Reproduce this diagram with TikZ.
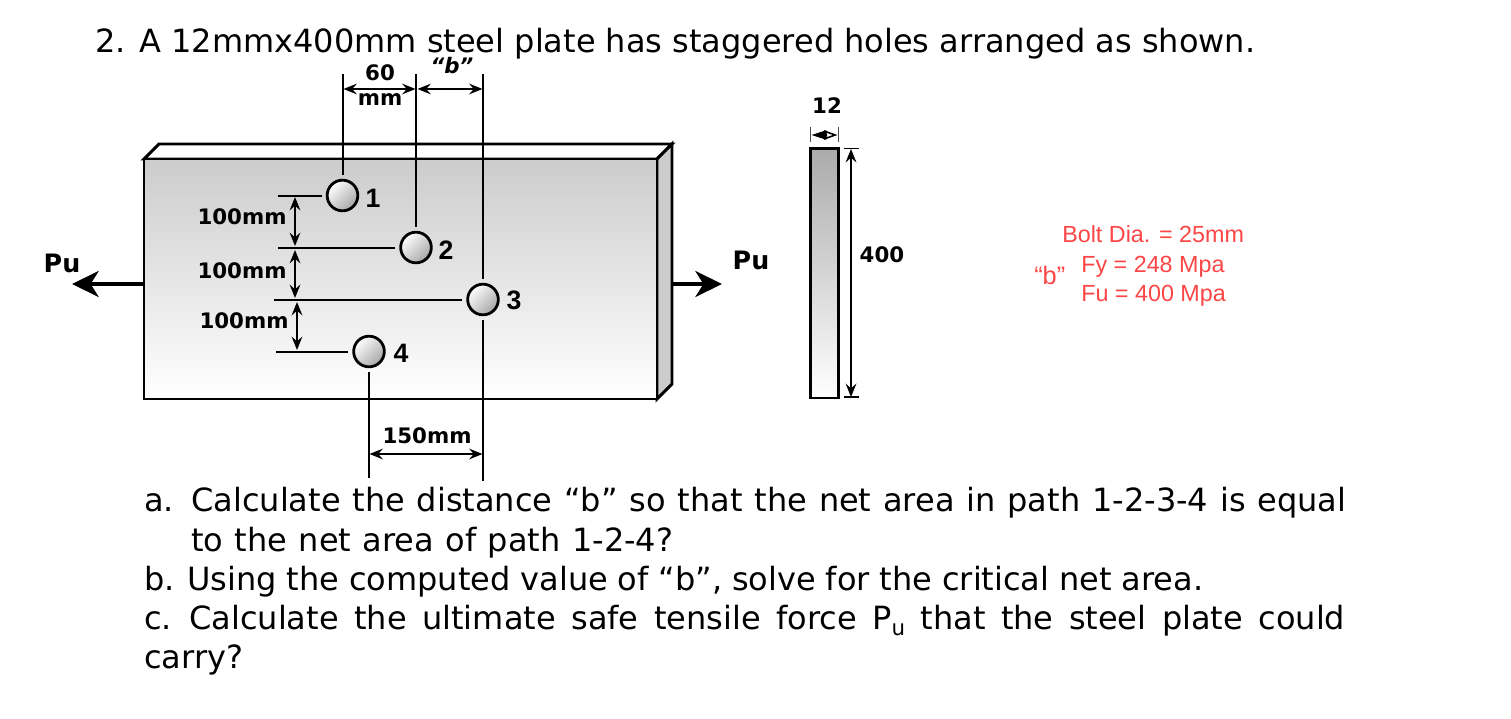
\documentclass[tikz,border=0pt]{standalone}
\usepackage{fontspec}
\setmainfont{DejaVu Sans}
\newfontfamily\helvfont{Liberation Sans}
\usetikzlibrary{arrows.meta}
\definecolor{notered}{RGB}{252,70,70}
\tikzset{
  plateline/.style={line width=2.2pt,line join=miter},
  thinline/.style={line width=1.5pt},
  dimline/.style={line width=1.9pt,{Stealth[length=10pt,width=8pt,inset=3.5pt]}-{Stealth[length=10pt,width=8pt,inset=3.5pt]}},
  loadarrow/.style={line width=2.4pt,-{Stealth[length=20pt,width=19.5pt,inset=6pt]}},
  hole/.style={circle,draw,line width=2.1pt,minimum size=23pt,inner sep=0pt,
    left color=white,right color=gray!70,shading angle=45},
  dimlabel/.style={font=\fontsize{16}{16}\selectfont\bfseries,inner sep=0pt},
  holelabel/.style={font=\helvfont\fontsize{20}{20}\selectfont\bfseries,inner sep=0pt},
  bodyline/.style={anchor=base west,inner sep=0pt,font=\fontsize{24}{24}\selectfont},
  redlabel/.style={anchor=base west,inner sep=0pt,text=notered,font=\helvfont\fontsize{17.5}{17.5}\selectfont},
}
\newcommand{\fitline}[2]{\makebox[0.75\dimexpr#1pt\relax][s]{#2}}
\begin{document}
\begin{tikzpicture}[x=0.75pt,y=-0.75pt]
    \useasboundingbox (0,0) rectangle (1511,718);
    % plate
    \draw[plateline,fill=white] (144,159) -- (159,144) -- (672,144) -- (657,159) -- cycle;
    \draw[plateline,fill=black!20] (657,159) -- (672,144) -- (672,384) -- (657,399) -- cycle;
    \draw[plateline,top color=black!20,bottom color=white] (144,159) rectangle (657,399);
    % side view
    \draw[plateline,top color=black!33,bottom color=white] (810.5,148.5) rectangle (838.5,398);
    % holes
    \node[hole] (h1) at (342.5,195.5) {};
    \node[hole] (h2) at (416,247.5) {};
    \node[hole] (h3) at (483,299.5) {};
    \node[hole] (h4) at (369,351.5) {};
    \node[holelabel] (n1) at (373,198) {1};
    \node[holelabel] (n2) at (446,250) {2};
    \node[holelabel] (n3) at (514,300) {3};
    \node[holelabel] (n4) at (401,353) {4};
    % free ends of the witness lines
    \coordinate (t1) at (342.5,74);
    \coordinate (t2) at (416,74);
    \coordinate (t3) at (483,74);
    \coordinate (b3) at (483,481);
    \coordinate (b4) at (369,478);
    \coordinate (l1) at (278,195.5);
    \coordinate (l2) at (278,247.5);
    \coordinate (l3) at (274,299.5);
    \coordinate (l4) at (276,351.5);
    \draw[thinline,shorten >=3pt] (t1) -- (h1);
    \draw[thinline,shorten >=3pt] (t2) -- (h2);
    \draw[thinline,shorten >=3pt] (t3) -- (h3);
    \draw[thinline,shorten >=3pt] (b3) -- (h3);
    \draw[thinline,shorten >=3pt] (b4) -- (h4);
    \draw[thinline,shorten >=3pt] (l1) -- (h1);
    \draw[thinline,shorten >=3pt] (l2) -- (h2);
    \draw[thinline,shorten >=3pt] (l3) -- (h3);
    \draw[thinline,shorten >=3pt] (l4) -- (h4);
    % dimensions along the top
    \coordinate (d1) at (343.5,89);
    \coordinate (d2) at (415.5,89);
    \coordinate (d3) at (417.5,89);
    \coordinate (d4) at (482.5,89);
    \draw[dimline] (d1) -- (d2);
    \draw[dimline] (d3) -- (d4);
    \node[dimlabel] (lab60) at (380,73) {60};
    \node[dimlabel] (labmm) at (380,100) {mm};
    \node[dimlabel,font=\fontsize{16}{16}\selectfont\bfseries\itshape] (labb) at (452,66) {“b”};
    % dimensions on the left
    \coordinate (v1) at (295,197);
    \coordinate (v2) at (295,246);
    \coordinate (v3) at (295,250);
    \coordinate (v4) at (295,298);
    \coordinate (v5) at (297,302);
    \coordinate (v6) at (297,350);
    \draw[dimline] (v1) -- (v2);
    \draw[dimline] (v3) -- (v4);
    \draw[dimline] (v5) -- (v6);
    \node[dimlabel] (lab100a) at (242,217) {100mm};
    \node[dimlabel] (lab100b) at (242,271) {100mm};
    \node[dimlabel] (lab100c) at (244,321) {100mm};
    % dimension below
    \coordinate (d5) at (369.5,454);
    \coordinate (d6) at (482.5,454);
    \draw[dimline] (d5) -- (d6);
    \node[dimlabel] (lab150) at (427,436) {150mm};
    % loads
    \coordinate (pl1) at (143,284);
    \coordinate (pl2) at (72,284);
    \coordinate (pr1) at (673,284);
    \coordinate (pr2) at (722,284);
    \draw[loadarrow] (pl1) -- (pl2);
    \draw[loadarrow] (pr1) -- (pr2);
    \node[dimlabel,font=\fontsize{19}{19}\selectfont\bfseries] (pul) at (62,263) {Pu};
    \node[dimlabel,font=\fontsize{19}{19}\selectfont\bfseries] (pur) at (751,260) {Pu};
    % side view dimensions
    \coordinate (w1) at (810.5,127);
    \coordinate (w2) at (810.5,142);
    \coordinate (w3) at (838.5,127);
    \coordinate (w4) at (838.5,142);
    \draw[line width=1pt,black!70] (w1) -- (w2);
    \draw[line width=1pt,black!70] (w3) -- (w4);
    \coordinate (d7) at (811.5,135);
    \coordinate (d8) at (837.5,135);
    \draw[line width=1.2pt,{Stealth[length=11pt,width=7pt,inset=1pt]}-{Stealth[length=10pt,width=7pt,inset=1pt,open,fill=white]}] (d7) -- (d8);
    \node[dimlabel] (lab12) at (827,106) {12};
    \coordinate (w5) at (844,148.5);
    \coordinate (w6) at (859,148.5);
    \coordinate (w7) at (844,397);
    \coordinate (w8) at (859,397);
    \draw[line width=1.1pt] (w5) -- (w6);
    \draw[line width=1.1pt] (w7) -- (w8);
    \coordinate (d9) at (851,149);
    \coordinate (d10) at (851,397);
    \draw[dimline] (d9) -- (d10);
    \node[dimlabel] (lab400) at (882,255) {400};
    % red notes
    \node[redlabel] (bolt) at (1062,242) {Bolt Dia. = 25mm};
    \node[redlabel] (fy) at (1081,272) {Fy = 248 Mpa};
    \node[redlabel] (fu) at (1081,301) {Fu = 400 Mpa};
    \node[redlabel,font=\helvfont\fontsize{19}{19}\selectfont] (redb) at (1034,284) {“b”};
    % question text
    \node[bodyline] (title) at (95,52) {\fitline{1160}{2. A 12mmx400mm steel plate has staggered holes arranged as shown.}};
    \node[bodyline] (qa) at (144,511) {a.};
    \node[bodyline] (qa1) at (191,511) {\fitline{1155}{Calculate the distance “b” so that the net area in path 1-2-3-4 is equal}};
    \node[bodyline] (qa2) at (191,551) {\fitline{482}{to the net area of path 1-2-4?}};
    \node[bodyline] (qb) at (144,590) {b.};
    \node[bodyline] (qb1) at (187,590) {\fitline{1016}{Using the computed value of “b”, solve for the critical net area.}};
    \node[bodyline] (qc) at (144,629) {c.};
    \node[bodyline] (qc1) at (189,629) {\fitline{1156}{Calculate the ultimate safe tensile force P\raisebox{-0.2em}{\fontsize{16}{16}\selectfont u} that the steel plate could}};
    \node[bodyline] (qc2) at (144,668) {carry?};
\end{tikzpicture}
\end{document}
